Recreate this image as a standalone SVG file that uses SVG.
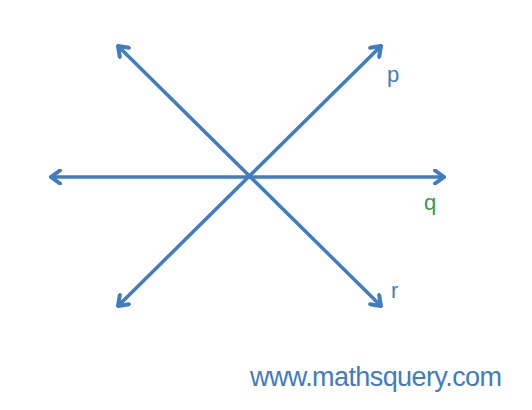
<svg xmlns="http://www.w3.org/2000/svg" width="532" height="410" viewBox="0 0 532 410">
<style>
.ln{stroke:#3F7CC0;stroke-width:3.5;fill:none}
.lbl{font-family:"Liberation Sans",Arial,sans-serif;font-size:22px}
</style>
<defs>
<marker id="ah" markerUnits="userSpaceOnUse" viewBox="-12 -8 14 16" refX="0" refY="0" markerWidth="14" markerHeight="16" orient="auto-start-reverse">
<path d="M-9,-6.5 L0,0 L-9,6.5" fill="none" stroke="#3F7CC0" stroke-width="4" stroke-linecap="round" stroke-linejoin="miter"/>
</marker>
</defs>
<rect width="532" height="410" fill="#ffffff"/>
<g id="connectors">
<line class="ln" x1="51" y1="177" x2="444" y2="177" marker-start="url(#ah)" marker-end="url(#ah)"/>
<line class="ln" x1="118" y1="306" x2="381" y2="46" marker-start="url(#ah)" marker-end="url(#ah)"/>
<line class="ln" x1="118" y1="46" x2="381" y2="306" marker-start="url(#ah)" marker-end="url(#ah)"/>
</g>
<g id="label-p"><text class="lbl" x="387" y="82" fill="#3F7CC0">p</text></g>
<g id="label-q"><text class="lbl" x="424" y="210" fill="#3C9A4C">q</text></g>
<g id="label-r"><text class="lbl" x="391" y="298" fill="#3F7CC0">r</text></g>
<g id="watermark"><text x="250" y="386" fill="#3F7CC0" font-family="Liberation Sans, Arial, sans-serif" font-size="27" textLength="252">www.mathsquery.com</text></g>
</svg>
